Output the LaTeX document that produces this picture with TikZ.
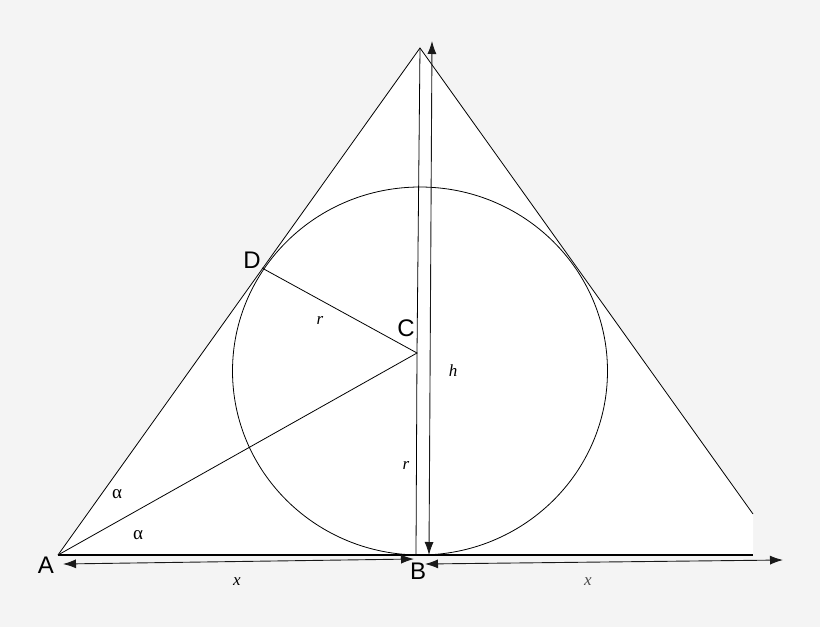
\documentclass[tikz,border=0pt]{standalone}
\usepackage{fontspec}
\usetikzlibrary{arrows.meta}
\setmainfont{Liberation Serif}
\newfontfamily\ptfont{Liberation Sans}
\definecolor{bggray}{HTML}{F4F4F4}
\begin{document}
\begin{tikzpicture}[x=1pt, y=-1pt,
    pt/.style={font=\ptfont\fontsize{24}{24}\selectfont, inner sep=0pt},
    lbl/.style={font=\fontsize{17}{17}\selectfont\itshape, inner sep=0pt},
    ang/.style={font=\fontsize{19}{19}\selectfont, inner sep=0pt},
    edge/.style={line width=0.8pt},
    dim/.style={line width=0.9pt, black!90, {Latex[length=13pt,width=9pt]}-{Latex[length=13pt,width=9pt]}}]
    \fill[bggray] (0, 0) rectangle (820, 627);
    \useasboundingbox (0, 0) rectangle (820, 627);

    \coordinate (A) at (58, 555);
    \coordinate (T) at (420, 48);
    \coordinate (R1) at (753, 514);
    \coordinate (R2) at (753, 555);
    \coordinate (C) at (417, 353);
    \coordinate (D) at (262, 268);
    \coordinate (B) at (416, 555);

    % white triangle, cut off at the right
    \fill[white] (A) -- (T) -- (R1) -- (R2) -- cycle;
    \draw[edge] (R1) -- (T) -- (A);
    \draw[line width=1.1pt] (A) -- (R2);

    % inscribed circle
    \draw[edge] (420, 371) ellipse [x radius=187.5, y radius=184];

    \draw[edge] (T) -- (C) -- (B);
    \draw[edge] (A) -- (C) -- (D);

    % dimension arrows
    \coordinate (h0) at (432, 41);
    \coordinate (h1) at (429, 555);
    \draw[dim] (h0) -- (h1);
    \coordinate (xa0) at (63, 564);
    \coordinate (xa1) at (414, 559);
    \draw[dim] (xa0) -- (xa1);
    \coordinate (xb0) at (425, 564);
    \coordinate (xb1) at (783, 560);
    \draw[dim] (xb0) -- (xb1);

    \node[pt] (lA) at (46, 565) {A};
    \node[pt] (lB) at (418, 571) {B};
    \node[pt] (lC) at (406, 328) {C};
    \node[pt] (lD) at (252, 260) {D};

    \node[ang] (a1) at (117, 494) {α};
    \node[ang] (a2) at (138, 535) {α};
    \node[lbl] (r1) at (320, 320) {r};
    \node[lbl] (r2) at (406, 465) {r};
    \node[lbl] (lh) at (453, 371) {h};
    \node[lbl] (x1) at (237, 582) {x};
    \node[lbl, black!70] (x2) at (588, 582) {x};
\end{tikzpicture}
\end{document}
